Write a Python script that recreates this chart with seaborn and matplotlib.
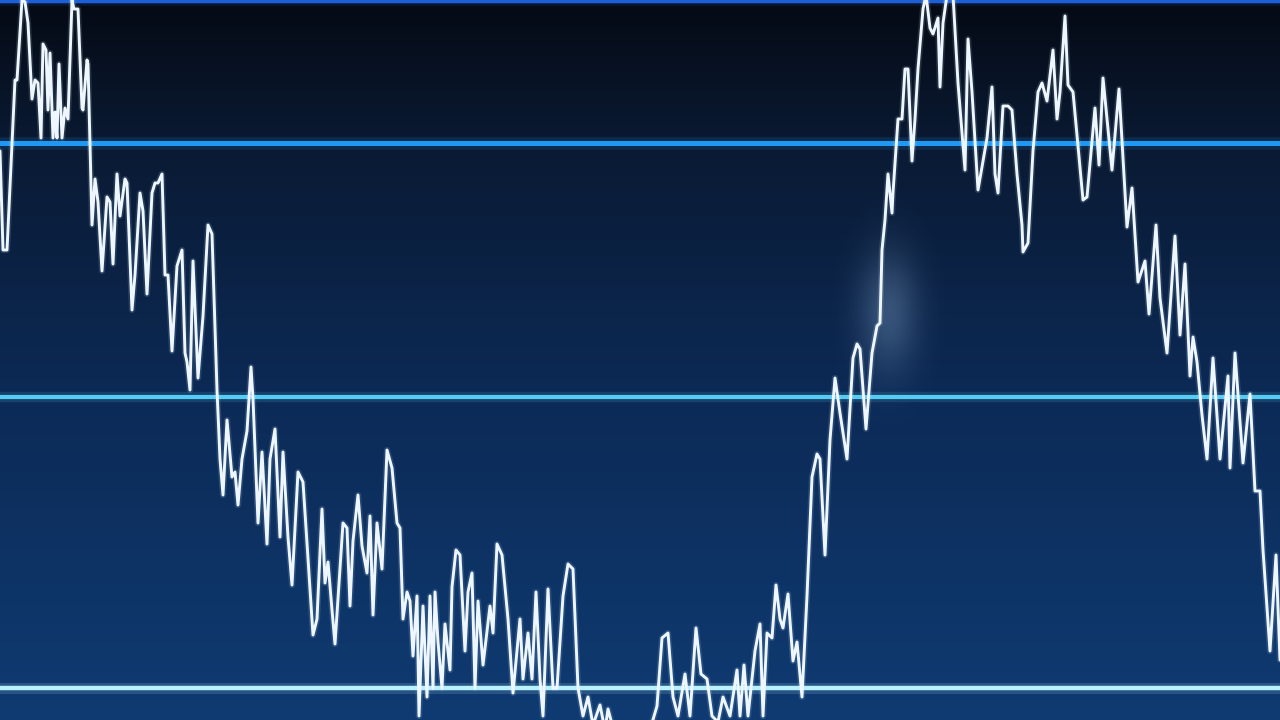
import numpy as np
import matplotlib
matplotlib.use("Agg")
import matplotlib.pyplot as plt
from matplotlib.colors import LinearSegmentedColormap, to_rgb
import seaborn as sns

# horizontal position of each sample (0..1280) and its level (0 = bottom, 720 = top)
x_pos = [
    0, 3, 7, 15, 17, 22, 25, 28, 32, 35, 38, 41, 43, 46, 48, 50, 53, 55, 57, 59,
    62, 65, 68, 72, 74, 78, 82, 83, 87, 88, 92, 95, 98, 102, 107, 110, 113, 117, 120, 125,
    127, 132, 135, 140, 143, 147, 152, 155, 158, 162, 165, 168, 172, 177, 182, 185, 187, 190, 193, 198,
    203, 208, 212, 217, 220,
    223, 227, 232, 235, 238, 242, 247, 251, 253, 258, 262, 267, 270, 275, 280, 283, 288, 292, 298, 303,
    313, 317, 322, 325, 328, 332, 335, 343, 347, 350, 353, 358, 362, 367, 370, 373, 377, 382, 387, 392,
    397, 400, 403, 407, 410, 413, 417, 419,
    423, 427, 430, 433, 435, 438, 442, 445, 450, 452, 456, 460, 465, 468, 472, 475, 478, 483, 490, 493,
    497, 502, 508, 513, 520, 523, 528, 532, 536, 540, 543, 548, 553, 557, 563, 568, 573, 578, 583, 588,
    593, 600, 605, 608, 613, 620, 630, 640, 650, 657, 662, 668, 673, 678, 685, 690, 696, 701, 707, 712,
    718, 723, 730, 737, 740, 744, 748, 755, 760, 763, 767, 772, 776, 780, 783, 788, 793, 797, 802,
    807, 812, 817, 820, 825, 830, 835, 840, 847, 853, 857, 860, 866, 872, 877, 880, 882, 885, 888, 892,
    893, 898, 902, 905, 908, 912, 915, 918, 923, 926, 930, 933, 938, 940, 943, 947, 953, 958, 965, 968,
    972, 978, 983, 987, 992, 995, 998, 1003, 1008, 1012, 1017, 1022, 1023, 1028, 1033, 1038, 1042, 1047, 1053, 1057,
    1060, 1065, 1068, 1073, 1083, 1087, 1095, 1099, 1103, 1112, 1119, 1127, 1132, 1138, 1145, 1149, 1156, 1160, 1167, 1175,
    1180, 1185, 1190, 1193, 1197, 1202, 1207, 1213, 1220, 1228, 1230, 1235, 1243, 1250, 1255, 1260, 1263, 1270, 1276, 1280,
]
level = [
    569, 470, 470, 640, 640, 720, 718, 697, 621, 640, 637, 582, 676, 670, 610, 667, 582, 608, 582, 656,
    582, 612, 601, 720, 711, 711, 612, 610, 660, 656, 495, 541, 518, 449, 523, 518, 456, 546, 504, 541,
    537, 410, 445, 527, 509, 426, 527, 537, 537, 546, 445, 445, 369, 454, 470, 367, 358, 330, 459, 342,
    404, 495, 486, 330, 261,
    225, 300, 243, 248, 215, 261, 289, 353, 321, 197, 268, 176, 261, 291, 183, 268, 183, 135, 248, 238,
    85, 101, 211, 137, 158, 110, 76, 197, 192, 114, 179, 225, 174, 147, 204, 105, 197, 151, 270, 252,
    197, 192, 101, 128, 119, 64, 124, 4,
    114, 23, 124, 32, 128, 78, 32, 96, 50, 133, 170, 165, 69, 128, 147, 32, 119, 55, 114, 87,
    176, 165, 101, 27, 101, 41, 87, 41, 128, 41, 4, 131, 32, 32, 124, 156, 151, 32, 4, 23,
    -5, 15, -10, 11, -8, -20, -25, -20, -10, 14, 82, 87, 23, 4, 46, 4, 92, 46, 41, 4,
    -2, 23, 4, 50, 4, 55, 4, 69, 96, 4, 87, 82, 135, 101, 92, 126, 59, 78, 23,
    124, 243, 266, 261, 165, 280, 342, 307, 261, 362, 376, 371, 291, 367, 394, 397, 470, 500, 546, 507,
    527, 601, 601, 651, 651, 559, 601, 651, 711, 725, 692, 686, 702, 633, 697, 725, 725, 637, 550, 681,
    628, 530, 559, 582, 633, 546, 527, 614, 614, 610, 546, 495, 468, 477, 569, 628, 637, 619, 670, 601,
    628, 704, 635, 628, 520, 523, 612, 555, 642, 550, 631, 493, 532, 438, 459, 406, 495, 422, 367, 484,
    385, 456, 344, 383, 358, 305, 261, 362, 261, 344, 252, 367, 257, 326, 229, 229, 170, 69, 165, 60,
]
assert len(x_pos) == len(level)

# horizontal reference levels and their colours
ref_levels = [719, 577, 323, 32]
ref_colors = ["#1f5fd6", "#1e98f2", "#55cdf3", "#b8f2ff"]
ref_widths = [2.5, 3.6, 3.0, 3.2]

sns.set_style("white")
fig = plt.figure(figsize=(12.8, 7.2), dpi=100)
ax = fig.add_axes([0, 0, 1, 1])
ax.set_xlim(0, 1280)
ax.set_ylim(0, 720)
ax.axis("off")

# background gradient, dark at the top, deep blue at the bottom
bg = LinearSegmentedColormap.from_list(
    "bg", [(0.0, "#0f3b72"), (0.45, "#0c2a56"), (0.8, "#0a1a33"), (1.0, "#050a14")])
grad = np.linspace(0, 1, 256).reshape(-1, 1)
ax.imshow(grad, cmap=bg, aspect="auto", extent=[0, 1280, 0, 720], origin="lower", zorder=0)

# soft glow along the steep rise
xs = np.array(x_pos)
gi = int(np.argmin(np.abs(xs - 880)))
gx, gy = xs[gi] + 8, level[gi] + 10
yy, xx = np.mgrid[0:720:3, 0:1280:3]
d = np.sqrt(((xx - gx) / 30.0) ** 2 + ((yy - gy) / 60.0) ** 2)
glow = np.zeros(xx.shape + (4,))
glow[..., :3] = to_rgb("#a9cdf2")
glow[..., 3] = 0.28 * np.exp(-d ** 2)
ax.imshow(glow, extent=[0, 1280, 0, 720], origin="lower", aspect="auto", zorder=1)

for lv, c, w in zip(ref_levels, ref_colors, ref_widths):
    ax.axhline(lv, color=c, lw=w * 2.5, alpha=0.15, zorder=2)
    ax.axhline(lv, color=c, lw=w, zorder=3)

df_line = {"x": x_pos, "level": level}
sns.lineplot(data=df_line, x="x", y="level", sort=False, estimator=None,
             color="#bfe0ff", lw=4.5, alpha=0.15, ax=ax, zorder=4)
sns.lineplot(data=df_line, x="x", y="level", sort=False, estimator=None,
             color="#eef7ff", lw=2.1, ax=ax, zorder=5)

ax.set_xlim(0, 1280)
ax.set_ylim(0, 720)
fig.savefig("out.png", dpi=100)
